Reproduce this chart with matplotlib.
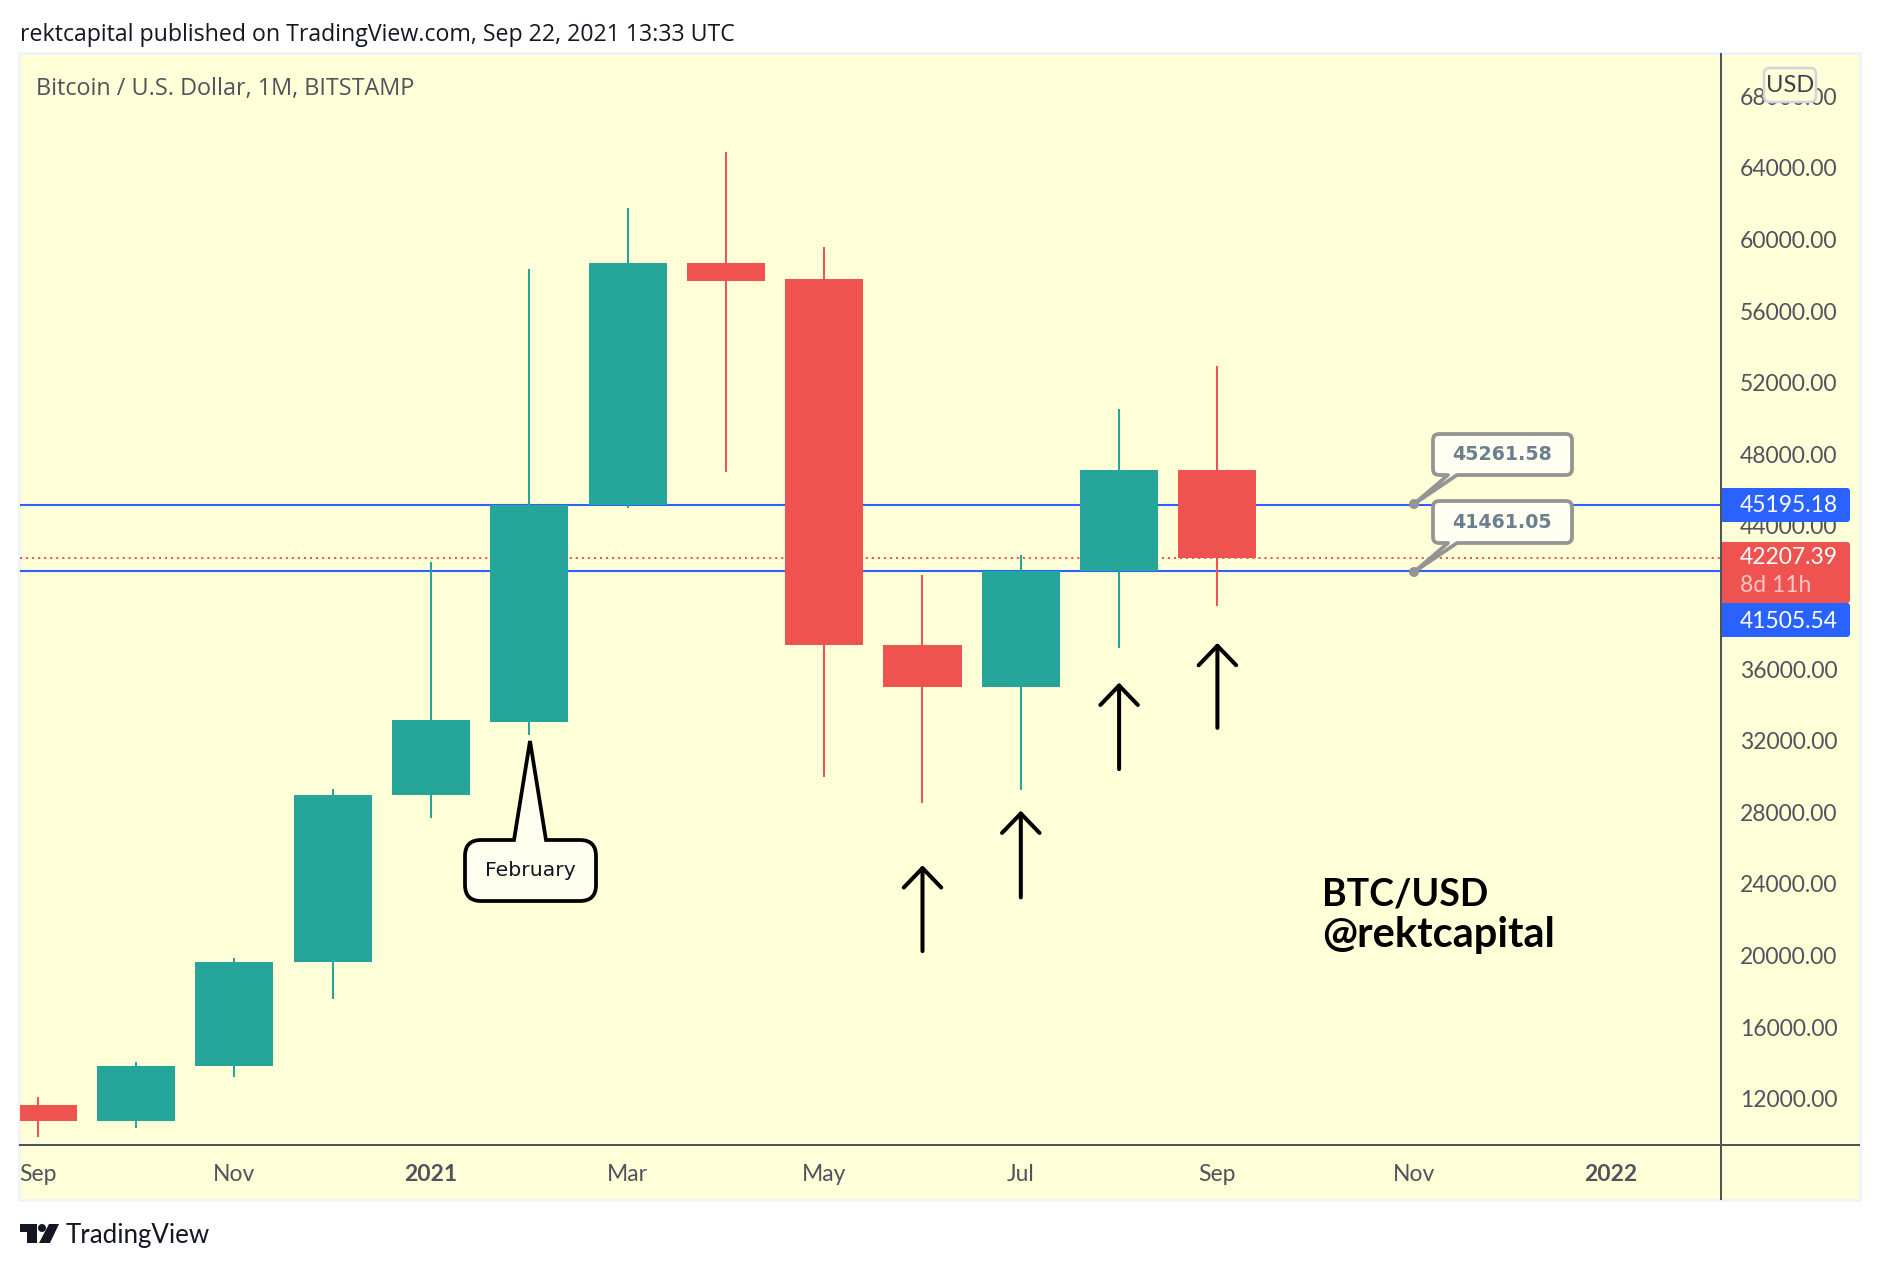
import matplotlib
matplotlib.use('Agg')
import matplotlib.pyplot as plt
from matplotlib.patches import Rectangle, FancyBboxPatch, PathPatch, Polygon, Circle
from matplotlib.path import Path

# monthly candles, Sep 2020 -> Sep 2021
month_idx = [0, 1, 2, 3, 4, 5, 6, 7, 8, 9, 10, 11, 12]
opens = [11654, 10783, 13850, 19620, 28950, 33050, 45195, 58700, 57800, 37350, 34980, 41505, 47110]
highs = [12120, 14070, 19880, 29300, 42000, 58350, 61750, 64900, 59600, 41280, 42400, 50530, 52940]
lows = [9850, 10380, 13200, 17600, 27700, 32300, 45000, 47000, 30000, 28550, 29250, 37190, 39540]
closes = [10783, 13850, 19620, 28950, 33150, 45195, 58700, 57700, 37350, 34980, 41505, 47110, 42207.39]

# horizontal levels
level_prices = [45195.18, 41505.54]
last_price = 42207.39

# up arrows under the last candles
arrow_months = [9, 10, 11, 12]
arrow_tips = [25050, 28100, 35250, 37470]
arrow_tails = [20250, 23250, 30420, 32720]

price_ticks = [12000, 16000, 20000, 24000, 28000, 32000, 36000, 40000, 44000,
               48000, 52000, 56000, 60000, 64000, 68000]
date_ticks = [0, 2, 4, 6, 8, 10, 12, 14, 16]
date_labels = ['Sep', 'Nov', '2021', 'Mar', 'May', 'Jul', 'Sep', 'Nov', '2022']
bold_dates = ['2021', '2022']

UP = '#26a69a'
DOWN = '#ef5350'
BLUE = '#2962ff'
BG = '#ffffd8'
AXIS = '#50535e'
FONT = 'Lato'

W, H = 1880, 1270
PANE_L, PANE_R, PANE_T, PANE_B = 20, 1721, 54, 1145
X0, X_STEP = 37.8, 98.3
Y64, Y_SCALE = 168.0, 0.0179

fig = plt.figure(figsize=(W / 100, H / 100), dpi=100, facecolor='white')


def px_axes(z):
    a = fig.add_axes([0, 0, 1, 1], zorder=z)
    a.set_xlim(0, W)
    a.set_ylim(H, 0)
    a.axis('off')
    return a


back = px_axes(0)
top = px_axes(3)

back.add_patch(Rectangle((19, 53), 1841, 1147, fc=BG, ec='#f0f3fa', lw=2))

ax = fig.add_axes([PANE_L / W, 1 - PANE_B / H, (PANE_R - PANE_L) / W, (PANE_B - PANE_T) / H], zorder=2)
ax.patch.set_alpha(0)
ax.set_xlim((PANE_L - X0) / X_STEP, (PANE_R - X0) / X_STEP)
ax.set_ylim(64000 - (PANE_B - Y64) / Y_SCALE, 64000 + (Y64 - PANE_T) / Y_SCALE)

for s in ['left', 'top', 'right', 'bottom']:
    ax.spines[s].set_visible(False)

# levels sit behind the candles
for p in level_prices:
    ax.axhline(p, color=BLUE, lw=1.5, zorder=1)
ax.axhline(last_price, color=DOWN, lw=1.45, linestyle=(0, (1, 2)), zorder=1)

colors = [UP if c >= o else DOWN for o, c in zip(opens, closes)]
ax.vlines(month_idx, lows, highs, colors=colors, lw=1.45, zorder=2)
ax.bar(month_idx, [c - o for o, c in zip(opens, closes)], bottom=opens, width=0.795,
       color=colors, linewidth=0, zorder=3)

for m, tip, tail in zip(arrow_months, arrow_tips, arrow_tails):
    ax.annotate('', xy=(m, tip), xytext=(m, tail), zorder=4,
                arrowprops=dict(arrowstyle='->,head_length=14,head_width=13.5', mutation_scale=1,
                                lw=2.9, color='black', shrinkA=0, shrinkB=0))

ax.yaxis.tick_right()
ax.set_yticks(price_ticks)
ax.set_yticklabels(['%.2f' % p for p in price_ticks], family=FONT, fontsize=16.5, color=AXIS)
ax.tick_params(axis='y', length=0, pad=13.5)
ax.set_xticks(date_ticks)
ax.set_xticklabels(date_labels, family=FONT, fontsize=16.5, color=AXIS)
for lab in ax.get_xticklabels():
    if lab.get_text() in bold_dates:
        lab.set_fontweight('bold')
ax.tick_params(axis='x', length=0, pad=14)

# axis lines run past the pane
top.plot([PANE_R, PANE_R], [54, 1199], color=AXIS, lw=1.45)
top.plot([20, 1859], [PANE_B, PANE_B], color=AXIS, lw=1.45)
top.add_patch(Rectangle((0, 1150), 19, 50, fc='white', ec='none'))
top.plot([19, 19], [1150, 1200], color='#f0f3fa', lw=1.45)


def price_label(y0, y1, color):
    top.add_patch(Rectangle((1720, y0), 20, y1 - y0, fc=color, ec='none'))
    top.add_patch(FancyBboxPatch((1725, y0), 125, y1 - y0, boxstyle='round,pad=0,rounding_size=3',
                                 fc=color, ec='none'))


price_label(488, 522, BLUE)
price_label(542, 603, DOWN)
price_label(603, 637, BLUE)
top.text(1740, 506, '45195.18', color='white', family=FONT, fontsize=16.5, va='center')
top.text(1740, 558, '42207.39', color='white', family=FONT, fontsize=16.5, va='center')
top.text(1740, 586, '8d 11h', color='#fcc5c5', family=FONT, fontsize=16.5, va='center')
top.text(1740, 621, '41505.54', color='white', family=FONT, fontsize=16.5, va='center')

# USD button over the top tick
top.add_patch(FancyBboxPatch((1764, 68), 52, 34, boxstyle='round,pad=0,rounding_size=6',
                             fc=BG, ec='#d1d4dc', lw=1.8))
top.text(1790, 85, 'USD', color='#3d404a', family=FONT, fontsize=17, ha='center', va='center')


def callout(x0, y0, x1, y1, r, base_a, base_b, tip, side):
    v = [(x0 + r, y0)]
    c = [Path.MOVETO]
    if side == 'top':
        v += [(base_a, y0), tip, (base_b, y0)]
        c += [Path.LINETO] * 3
    v += [(x1 - r, y0), (x1, y0), (x1, y0 + r), (x1, y1 - r), (x1, y1), (x1 - r, y1)]
    c += [Path.LINETO, Path.CURVE3, Path.CURVE3, Path.LINETO, Path.CURVE3, Path.CURVE3]
    if side == 'bottom':
        v += [(base_b, y1), tip, (base_a, y1)]
        c += [Path.LINETO] * 3
    v += [(x0 + r, y1), (x0, y1), (x0, y1 - r), (x0, y0 + r), (x0, y0), (x0 + r, y0)]
    c += [Path.LINETO, Path.CURVE3, Path.CURVE3, Path.LINETO, Path.CURVE3, Path.CURVE3]
    return Path(v, c)


# February note
top.add_patch(PathPatch(callout(465, 840, 596, 901, 16, 514, 546, (530, 741), 'top'),
                        fc='#fffff0', ec='black', lw=2.7, joinstyle='miter'))
top.text(530, 870, 'February', color='#131722', family='DejaVu Sans', fontsize=14.7, ha='center', va='center')

# price notes with dots on the levels
for y0, y1, tip_y, txt in [(434, 475, 504, '45261.58'), (501, 543, 572, '41461.05')]:
    top.add_patch(PathPatch(callout(1433, y0, 1572, y1, 6, 1448, 1457, (1414, tip_y), 'bottom'),
                            fc='#fffff2', ec='#949494', lw=2.7, joinstyle='round'))
    top.add_patch(Circle((1414, tip_y), 5, fc='#949494', ec='none'))
    top.text(1502, (y0 + y1) / 2, txt, color='#6a7f8f', family='DejaVu Sans', fontsize=13.7,
             fontweight='bold', ha='center', va='center')

top.text(1322, 894, 'BTC/USD', color='black', family=FONT, fontsize=27, fontweight='bold', va='center')
top.text(1322, 935, '@rektcapital', color='black', family=FONT, fontsize=30, fontweight='bold', va='center')

top.text(20, 35, 'rektcapital published on TradingView.com, Sep 22, 2021 13:33 UTC', color='#131722',
         family='Open Sans', fontsize=16.7, va='center')
top.text(36, 89, 'Bitcoin / U.S. Dollar, 1M, BITSTAMP', color=AXIS, family='Open Sans', fontsize=16.8, va='center')

# TradingView logo
LOGO = '#131722'
top.add_patch(Polygon([(20, 1224), (37, 1224), (37, 1243), (27, 1243), (27, 1232), (20, 1232)], fc=LOGO, ec='none'))
top.add_patch(Circle((42, 1228), 4, fc=LOGO, ec='none'))
top.add_patch(Polygon([(49, 1224), (59, 1224), (50, 1243), (39, 1243)], fc=LOGO, ec='none'))
top.text(66, 1236, 'TradingView', color=LOGO, family=FONT, fontsize=18.6, va='center')

fig.savefig('out.png', dpi=100)
